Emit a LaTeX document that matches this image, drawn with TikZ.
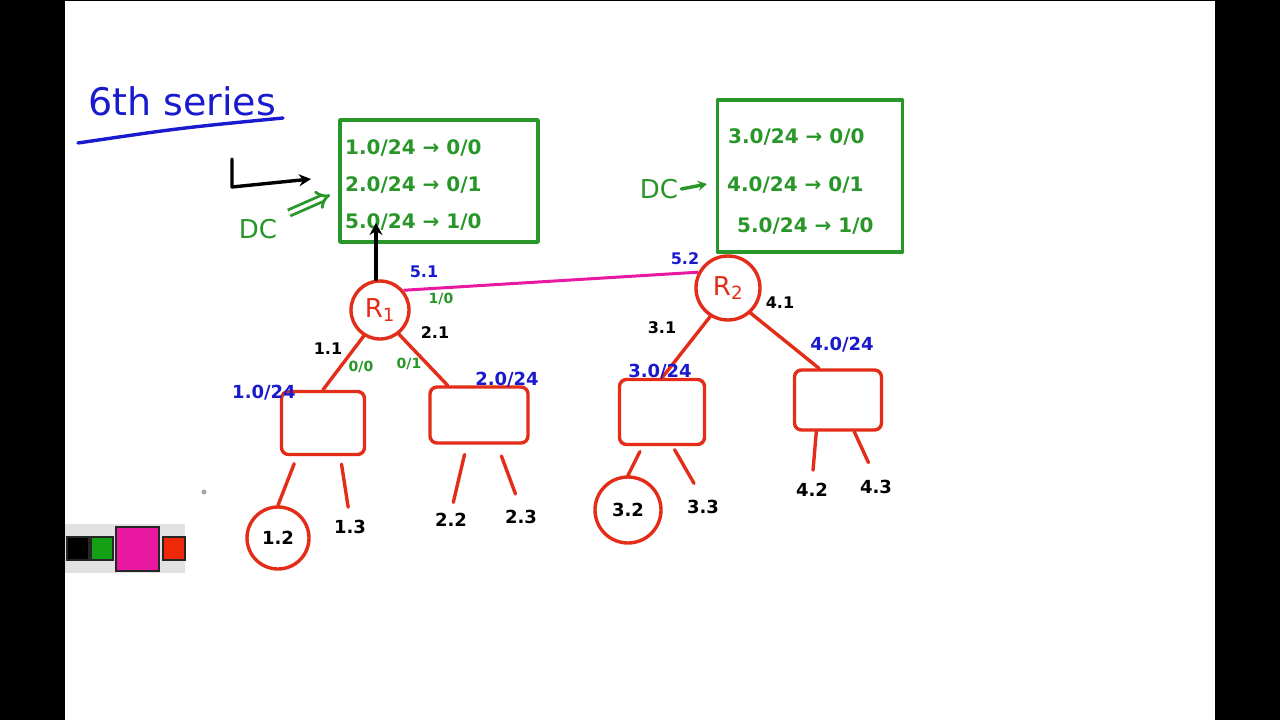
\documentclass[tikz,border=0pt]{standalone}
\usepackage{fontspec}
\setmainfont{DejaVu Sans}
\usetikzlibrary{arrows.meta,calc}
\definecolor{pgreen}{RGB}{40,150,40}
\definecolor{pblue}{RGB}{25,25,205}
\definecolor{pred}{RGB}{228,45,25}
\definecolor{pmag}{RGB}{232,25,160}
\definecolor{pgrey}{RGB}{226,226,226}
\tikzset{
  ink/.style={line width=3.4pt, line cap=round, line join=round},
  gbox/.style={draw=pgreen, ink, minimum width=#1},
  rtxt/.style={text=pgreen, font=\fontsize{20}{22}\selectfont\bfseries, anchor=west, inner sep=0pt},
  lb/.style={font=\fontsize{16}{18}\selectfont\bfseries, inner sep=1pt},
  blk/.style={lb, text=black},
  grn/.style={lb, text=pgreen},
  blu/.style={lb, text=pblue},
  router/.style={draw=pred, ink, circle, text=pred, font=\fontsize{26}{28}\selectfont, inner sep=0pt},
  swbox/.style={draw=pred, ink, rounded corners=7pt},
  host/.style={lb, text=black, font=\fontsize{18}{20}\selectfont\bfseries},
  hostc/.style={host, draw=pred, ink, circle, inner sep=0pt},
  redline/.style={draw=pred, ink},
  swatch/.style={draw=black!85, line width=1.2pt}
}
\begin{document}
\begin{tikzpicture}[x=1pt,y=-1pt]
\useasboundingbox (0,0) rectangle (1280,720);
\fill[black] (0,0) rectangle (1280,720);
\fill[white] (65,1) rectangle (1215,720);

% title
\node[text=pblue, font=\fontsize{38}{40}\selectfont, inner sep=0pt] (title) at (182,101) {6th series};
\coordinate (ul1) at (78,143);
\coordinate (ul2) at (283,118);
\draw[pblue, ink] (ul1) .. controls (180,128) .. (ul2);

% left routing table
\node[gbox=198, minimum height=122] (rt1) at (439,181) {};
\node[rtxt] (rt1a) at (345,148) {1.0/24 → 0/0};
\node[rtxt] (rt1b) at (345,185) {2.0/24 → 0/1};
\node[rtxt] (rt1c) at (345,222) {5.0/24 → 1/0};

% black L arrow
\coordinate (Ls) at (232,159);
\coordinate (Lc) at (232,187);
\coordinate (Le) at (311,179);
\draw[black, ink, -{Stealth[length=12pt,width=12pt]}] (Ls) -- (Lc) -- (Le);

% DC left
\node[text=pgreen, font=\fontsize{26}{28}\selectfont, inner sep=0pt] (dc1) at (258,229) {DC};
\coordinate (dca) at (289,213);
\coordinate (dcb) at (330,195);
\draw[pgreen, line width=2.8pt, double=white, double distance=3.5pt, -{Implies}] (dca) -- (dcb);

% right routing table
\node[gbox=185, minimum height=152] (rt2) at (810,176) {};
\node[rtxt] (rt2a) at (728,137) {3.0/24 → 0/0};
\node[rtxt] (rt2b) at (727,185) {4.0/24 → 0/1};
\node[rtxt] (rt2c) at (737,226) {5.0/24 → 1/0};
\node[text=pgreen, font=\fontsize{26}{28}\selectfont, inner sep=0pt] (dc2) at (659,189) {DC};
\coordinate (dc2e) at (707,184);
\draw[pgreen, ink, -{Stealth[length=9pt,width=10pt]}] (dc2.east) ++(3,0) -- (dc2e);

% routers
\node[router, minimum size=58pt] (R1) at (380,310) {R\textsubscript{1}};
\node[router, minimum size=64pt] (R2) at (728,288) {R\textsubscript{2}};

% R1 -> table arrow
\coordinate (upend) at (376,223);
\draw[black, ink, -{Stealth[length=12pt,width=13pt]}] (R1.north -| upend) -- (upend);

% link between routers
\draw[pmag, line width=3pt] (R1.40) -- (R2.152);
\node[blu] (l51) at (424,272) {5.1};
\node[grn, font=\fontsize{14}{15}\selectfont\bfseries] (l10) at (441,299) {1/0};
\node[blu] (l52) at (685,259) {5.2};

% switches
\node[swbox, minimum width=83pt, minimum height=63pt] (sw1) at (323,423) {};
\node[swbox, minimum width=98pt, minimum height=56pt] (sw2) at (479,415) {};
\node[swbox, minimum width=85pt, minimum height=65pt] (sw3) at (662,412) {};
\node[swbox, minimum width=87pt, minimum height=60pt] (sw4) at (838,400) {};

% router-to-switch links
\draw[redline] (R1.238) -- (sw1.north);
\draw[redline] (R1.-52) -- ($(sw2.north west)!0.19!(sw2.north east)$);
\draw[redline] (R2.238) -- (sw3.north);
\draw[redline] (R2.-48) -- ($(sw4.north west)!0.29!(sw4.north east)$);

% interface labels
\node[blk] (i11) at (328,349) {1.1};
\node[grn, font=\fontsize{14}{15}\selectfont\bfseries] (i00) at (361,367) {0/0};
\node[blk] (i21) at (435,333) {2.1};
\node[grn, font=\fontsize{14}{15}\selectfont\bfseries] (i01) at (409,364) {0/1};
\node[blk] (i31) at (662,328) {3.1};
\node[blk] (i41) at (780,303) {4.1};

% subnet labels
\node[blu, font=\fontsize{18}{20}\selectfont\bfseries] (n1) at (264,393) {1.0/24};
\node[blu, font=\fontsize{18}{20}\selectfont\bfseries] (n2) at (507,380) {2.0/24};
\node[blu, font=\fontsize{18}{20}\selectfont\bfseries] (n3) at (660,372) {3.0/24};
\node[blu, font=\fontsize{18}{20}\selectfont\bfseries] (n4) at (842,345) {4.0/24};

% hosts
\node[hostc, minimum size=62pt] (h12) at (278,538) {1.2};
\node[host] (h13) at (350,527) {1.3};
\node[host] (h22) at (451,520) {2.2};
\node[host] (h23) at (521,517) {2.3};
\node[hostc, minimum size=66pt] (h32) at (628,510) {3.2};
\node[host] (h33) at (703,507) {3.3};
\node[host] (h42) at (812,490) {4.2};
\node[host] (h43) at (876,487) {4.3};

% switch-to-host links
\draw[redline, shorten <=8pt] ($(sw1.south west)!0.2!(sw1.south east)$) -- (h12.north);
\draw[redline, shorten <=8pt, shorten >=12pt] ($(sw1.south west)!0.7!(sw1.south east)$) -- (h13.north);
\draw[redline, shorten <=10pt, shorten >=10pt] ($(sw2.south west)!0.38!(sw2.south east)$) -- (h22.north);
\draw[redline, shorten <=12pt, shorten >=16pt] ($(sw2.south west)!0.68!(sw2.south east)$) -- (h23.north);
\draw[redline, shorten <=6pt] ($(sw3.south west)!0.28!(sw3.south east)$) -- (h32.north);
\draw[redline, shorten <=4pt, shorten >=18pt] ($(sw3.south west)!0.62!(sw3.south east)$) -- (h33.north);
\draw[redline, shorten <=0pt, shorten >=12pt] ($(sw4.south west)!0.26!(sw4.south east)$) -- (h42.north);
\draw[redline, shorten <=0pt, shorten >=18pt] ($(sw4.south west)!0.68!(sw4.south east)$) -- (h43.north);

% palette
\fill[pgrey] (65,524) rectangle (185,573);
\draw[swatch, fill=black] (67,537) rectangle (89,560);
\draw[swatch, fill={rgb,255:red,20;green,160;blue,20}] (91,537) rectangle (113,560);
\draw[black!85, line width=2pt, fill=pmag] (116,527) rectangle (159,571);
\draw[swatch, fill={rgb,255:red,240;green,40;blue,10}] (163,537) rectangle (185,560);
\fill[gray!70] (204,492) circle (2.5);
\end{tikzpicture}
\end{document}
